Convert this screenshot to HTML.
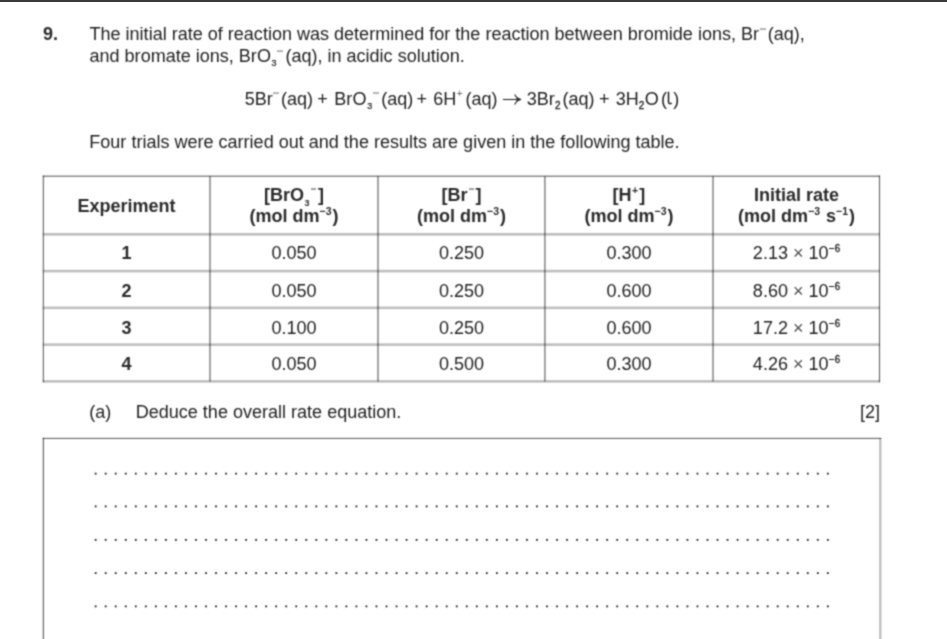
<!DOCTYPE html>
<html><head><meta charset="utf-8">
<style>
html,body{margin:0;padding:0;background:#fff;}
body{width:947px;height:639px;position:relative;overflow:hidden;font-family:"Liberation Sans",sans-serif;font-size:18.04px;color:#1e1e1e;}
#w{position:absolute;left:0;top:0;width:947px;height:639px;filter:url(#f);background:#fff;}
.t{position:absolute;white-space:pre;line-height:22px;height:22px;transform:scaleY(1.04);transform-origin:0 17.25px;}
.b{font-weight:bold;color:#2a2a2a;}
.s{font-size:10px;position:relative;}
.sup{top:-8.2px;color:#666;}
.sub{top:4.2px;-webkit-text-stroke:0.3px #0c0c0c;}
.m{display:inline-block;position:relative;width:6px;height:1px;background:#707070;top:-10.9px;}
.hsub{font-size:9px;position:relative;top:4.9px;margin-left:0.4px;}
.hm{display:inline-block;width:4.8px;height:1.1px;background:#4a4a4a;position:relative;top:-11.4px;}
.hp{font-size:10.5px;position:relative;top:-7.2px;margin:0 1.2px 0 0.4px;}
.hs{font-size:10.5px;position:relative;top:-6.9px;margin-right:0.9px;}
.e{font-size:9.8px;position:relative;top:-6.6px;-webkit-text-stroke:0.3px #0c0c0c;margin-left:0.4px;}
.x{color:#4a4a4a;}
.c{position:absolute;text-align:center;white-space:pre;line-height:22px;transform:scaleY(1.04);transform-origin:0 17.25px;}
</style></head><body><svg width="0" height="0" style="position:absolute"><filter id="f" x="0" y="0" width="100%" height="100%" color-interpolation-filters="sRGB"><feConvolveMatrix order="3" kernelMatrix="0.0441 0.1218 0.0441 0.1218 0.3364 0.1218 0.0441 0.1218 0.0441" divisor="1" edgeMode="duplicate" preserveAlpha="false"/></filter></svg><div id="w">

<div class="t b" style="left:43px;top:23px">9.</div>
<div class="t" style="left:89.5px;top:23px">The initial rate of reaction was determined for the reaction between bromide ions, Br</div>
<div class="t" style="left:89.5px;top:45px">and bromate ions, BrO</div>

<div class="t " style="left:244.67px;top:87.5px">5Br</div>
<div class="t " style="left:273.21px;top:87.5px"><span class="m"></span></div>
<div class="t " style="left:281.04px;top:87.5px">(aq)</div>
<div class="t " style="left:317.35px;top:87.5px">+</div>
<div class="t " style="left:334.35px;top:87.5px">BrO</div>
<div class="t " style="left:367.20px;top:87.5px"><span class="s sub" style="font-size:9px;top:4px;-webkit-text-stroke-width:0.2px">3</span></div>
<div class="t " style="left:372.96px;top:87.5px"><span class="m"></span></div>
<div class="t " style="left:381.24px;top:87.5px">(aq)</div>
<div class="t " style="left:416.45px;top:87.5px">+</div>
<div class="t " style="left:433.18px;top:87.5px">6H</div>
<div class="t " style="left:456.73px;top:87.5px"><span class="s sup">+</span></div>
<div class="t " style="left:465.44px;top:87.5px">(aq)</div>
<div class="t " style="left:526.70px;top:87.5px">3Br</div>
<div class="t " style="left:554.93px;top:87.5px"><span class="s sub">2</span></div>
<div class="t " style="left:562.54px;top:87.5px">(aq)</div>
<div class="t " style="left:599.05px;top:87.5px">+</div>
<div class="t " style="left:615.70px;top:87.5px">3H</div>
<div class="t " style="left:638.83px;top:87.5px"><span class="s sub">2</span></div>
<div class="t " style="left:644.72px;top:87.5px">O</div>
<div class="t " style="left:661.04px;top:87.5px">(</div>
<div class="t " style="left:673.17px;top:87.5px">)</div>
<div class="t " style="left:760.06px;top:23px"><span class="m" style="top:-10.45px"></span></div>
<div class="t " style="left:767.64px;top:23px">(aq),</div>
<div class="t " style="left:271.40px;top:45px"><span class="s sub" style="font-size:9px;top:4px;-webkit-text-stroke-width:0.2px">3</span></div>
<div class="t " style="left:277.16px;top:45px"><span class="m" style="top:-10.35px"></span></div>
<div class="t " style="left:285.41px;top:45px">(aq), in acidic solution.</div>
<svg style="position:absolute;left:500px;top:90px" width="26" height="20" viewBox="0 0 26 20"><path d="M2.9 9.5 H18" stroke="#2a2a2a" stroke-width="1.1" fill="none"/><path d="M14.7 4.6 Q16.6 8.6 21 9.5 Q16.6 10.4 14.7 14.4" stroke="#2a2a2a" stroke-width="1.1" fill="none"/><path d="M21.2 9.5 L16.3 7.3 Q17.4 9.5 16.3 11.7 Z" fill="#2a2a2a"/></svg>
<svg style="position:absolute;left:660px;top:88px" width="20" height="22" viewBox="0 0 20 22"><path d="M8.5 3.7 V14 Q8.5 15.7 10.1 15.7 Q11.2 15.7 11.7 14.9" stroke="#1a1a1a" stroke-width="1.5" fill="none"/></svg>

<div class="t" style="left:89.3px;top:130.5px">Four trials were carried out and the results are given in the following table.</div>

<!-- table lines -->
<svg style="position:absolute;left:0;top:0" width="947" height="639" viewBox="0 0 947 639">
<rect x="42.8" y="175.60" width="837.20" height="1.2" fill="#000" fill-opacity="0.58"/>
<rect x="42.8" y="233.00" width="837.20" height="2.6" fill="#000" fill-opacity="0.255"/>
<rect x="42.8" y="269.80" width="837.20" height="2.6" fill="#000" fill-opacity="0.255"/>
<rect x="42.8" y="306.55" width="837.20" height="2.6" fill="#000" fill-opacity="0.255"/>
<rect x="42.8" y="343.35" width="837.20" height="2.6" fill="#000" fill-opacity="0.255"/>
<rect x="42.8" y="380.30" width="837.20" height="2.2" fill="#000" fill-opacity="0.30"/>
<rect x="42.80" y="175.6" width="1.1" height="206.70" fill="#000" fill-opacity="0.62"/>
<rect x="878.95" y="175.6" width="1.1" height="206.70" fill="#000" fill-opacity="0.62"/>
<rect x="209.45" y="176.2" width="1.1" height="205.20" fill="#000" fill-opacity="0.66"/>
<rect x="377.45" y="176.2" width="1.1" height="205.20" fill="#000" fill-opacity="0.66"/>
<rect x="544.35" y="176.2" width="1.1" height="205.20" fill="#000" fill-opacity="0.66"/>
<rect x="712.45" y="176.2" width="1.1" height="205.20" fill="#000" fill-opacity="0.66"/>
<rect x="42.8" y="437.90" width="838.40" height="1.0" fill="#000" fill-opacity="0.66"/>
<rect x="42.80" y="437.8" width="1.1" height="202.20" fill="#000" fill-opacity="0.66"/>
<rect x="879.2" y="438.0" width="2.2" height="202.20" fill="#000" fill-opacity="0.27"/>
<line x1="94.80" y1="473.6" x2="828.69" y2="473.6" stroke="#101010" stroke-width="1.7" stroke-dasharray="1.7 8.33"/>
<line x1="94.80" y1="506.4" x2="828.69" y2="506.4" stroke="#101010" stroke-width="1.7" stroke-dasharray="1.7 8.33"/>
<line x1="94.80" y1="539.9" x2="828.69" y2="539.9" stroke="#101010" stroke-width="1.7" stroke-dasharray="1.7 8.33"/>
<line x1="94.80" y1="573.1" x2="828.69" y2="573.1" stroke="#101010" stroke-width="1.7" stroke-dasharray="1.7 8.33"/>
<line x1="94.80" y1="606.3" x2="828.69" y2="606.3" stroke="#101010" stroke-width="1.7" stroke-dasharray="1.7 8.33"/>
</svg>

<div class="c b" style="left:43px;width:167px;top:195px">Experiment</div>
<div class="c b" style="left:210px;width:168px;top:184px">[BrO<span class="hsub">3</span><span class="hm" style="margin:0 2px 0 1.6px"></span>]</div>
<div class="c b" style="left:210px;width:168px;top:205px">(mol dm<span class="hs">−3</span>)</div>
<div class="c b" style="left:378px;width:167px;top:184px">[Br<span class="hm" style="margin:0 2px 0 1.2px"></span>]</div>
<div class="c b" style="left:378px;width:167px;top:205px">(mol dm<span class="hs">−3</span>)</div>
<div class="c b" style="left:545px;width:168px;top:184px">[H<span class="hp">+</span>]</div>
<div class="c b" style="left:545px;width:168px;top:205px">(mol dm<span class="hs">−3</span>)</div>
<div class="c b" style="left:713px;width:167px;top:184px">Initial rate</div>
<div class="c b" style="left:713px;width:167px;top:205px">(mol dm<span class="hs">−3</span> s<span class="hs">−1</span>)</div>

<div class="c b" style="left:43px;width:167px;top:242px">1</div>
<div class="c" style="left:210px;width:168px;top:242px">0.050</div>
<div class="c" style="left:378px;width:167px;top:242px">0.250</div>
<div class="c" style="left:545px;width:168px;top:242px">0.300</div>
<div class="c" style="left:713px;width:167px;top:242px">2.13 <span class="x">×</span> 10<span class="e">−6</span></div>

<div class="c b" style="left:43px;width:167px;top:279.5px">2</div>
<div class="c" style="left:210px;width:168px;top:279.5px">0.050</div>
<div class="c" style="left:378px;width:167px;top:279.5px">0.250</div>
<div class="c" style="left:545px;width:168px;top:279.5px">0.600</div>
<div class="c" style="left:713px;width:167px;top:279.5px">8.60 <span class="x">×</span> 10<span class="e">−6</span></div>

<div class="c b" style="left:43px;width:167px;top:316.5px">3</div>
<div class="c" style="left:210px;width:168px;top:316.5px">0.100</div>
<div class="c" style="left:378px;width:167px;top:316.5px">0.250</div>
<div class="c" style="left:545px;width:168px;top:316.5px">0.600</div>
<div class="c" style="left:713px;width:167px;top:316.5px">17.2 <span class="x">×</span> 10<span class="e">−6</span></div>

<div class="c b" style="left:43px;width:167px;top:353px">4</div>
<div class="c" style="left:210px;width:168px;top:353px">0.050</div>
<div class="c" style="left:378px;width:167px;top:353px">0.500</div>
<div class="c" style="left:545px;width:168px;top:353px">0.300</div>
<div class="c" style="left:713px;width:167px;top:353px">4.26 <span class="x">×</span> 10<span class="e">−6</span></div>

<div class="t" style="left:89.3px;top:401.3px">(a)</div>
<div class="t" style="left:135.7px;top:401.3px">Deduce the overall rate equation.</div>
<div class="t" style="left:860px;top:401.3px">[2]</div>

<!-- answer box -->


</div><div style="position:absolute;left:0;top:0;width:947px;height:2px;background:#3a3a3a;z-index:5"></div></body></html>
